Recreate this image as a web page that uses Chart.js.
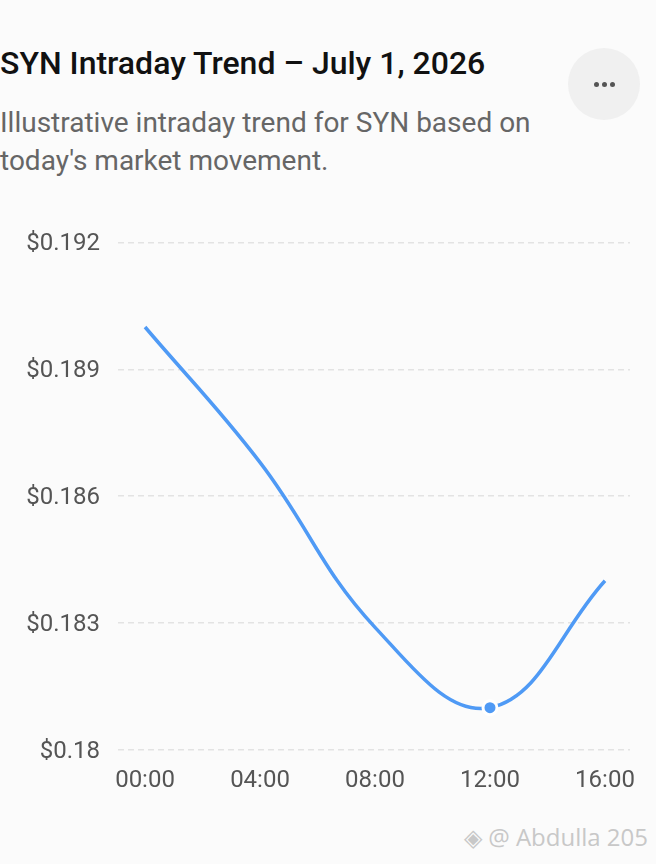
<!DOCTYPE html>
<html lang="en">
<head>
    <meta charset="UTF-8">
    <title>SYN Intraday Trend</title>
    <script src="https://cdn.jsdelivr.net/npm/chart.js@4.4.1/dist/chart.umd.min.js"></script>
    <style>
        html, body {
            margin: 0;
            padding: 0;
            background: #fbfbfb;
            font-family: Roboto, "Noto Sans", sans-serif;
            width: 656px;
            height: 864px;
            overflow: hidden;
            position: relative;
        }
        h1 {
            position: absolute;
            left: 0;
            top: 44px;
            margin: 0;
            font-size: 32px;
            font-weight: 500;
            color: #111;
            line-height: 38px;
            white-space: nowrap;
        }
        .sub {
            position: absolute;
            left: 0;
            top: 104px;
            margin: 0;
            width: 545px;
            font-size: 28px;
            line-height: 38px;
            color: #666;
        }
        .menu {
            position: absolute;
            left: 568px;
            top: 48px;
            width: 72px;
            height: 72px;
            border-radius: 50%;
            background: #f0f0f0;
        }
        .menu span {
            position: absolute;
            top: 34px;
            width: 5px;
            height: 5px;
            border-radius: 50%;
            background: #555;
        }
        #wrap {
            position: absolute;
            left: 0;
            top: 210px;
            width: 656px;
            height: 600px;
        }
        .mark {
            position: absolute;
            right: 8px;
            top: 820px;
            font-size: 24px;
            color: #c8c8c8;
            font-family: "Open Sans", sans-serif;
        }
    </style>
</head>
<body>
    <h1>SYN Intraday Trend – July 1, 2026</h1>
    <p class="sub">Illustrative intraday trend for SYN based on today's market movement.</p>
    <div class="menu"><span style="left:26px"></span><span style="left:34px"></span><span style="left:42px"></span></div>
    <div id="wrap"><canvas id="trendChart"></canvas></div>
    <div class="mark">◈ @ Abdulla 205</div>

    <script>
        // values
        const hours = [0, 4, 8, 12, 16];
        const timeLabels = ['00:00', '04:00', '08:00', '12:00', '16:00'];
        const prices = [0.1900, 0.1868, 0.1829, 0.1810, 0.1840];
        const yTicks = [0.180, 0.183, 0.186, 0.189, 0.192];
        const highlightIndex = 3;

        const blue = '#4f9af5';

        const ctx = document.getElementById('trendChart').getContext('2d');
        new Chart(ctx, {
            type: 'line',
            data: {
                datasets: [{
                    data: hours.map((h, i) => ({ x: h, y: prices[i] })),
                    borderColor: blue,
                    borderWidth: 3.5,
                    tension: 0.4,
                    pointRadius: prices.map((p, i) => i === highlightIndex ? 7 : 0),
                    pointBackgroundColor: blue,
                    pointBorderColor: '#ffffff',
                    pointBorderWidth: 3,
                    fill: false
                }]
            },
            options: {
                responsive: true,
                maintainAspectRatio: false,
                animation: false,
                layout: { padding: { top: 31, right: 26, left: 0, bottom: 0 } },
                plugins: {
                    legend: { display: false },
                    tooltip: { enabled: false }
                },
                scales: {
                    x: {
                        type: 'linear',
                        min: -0.94,
                        max: 16.87,
                        afterBuildTicks: scale => { scale.ticks = hours.map(h => ({ value: h })); },
                        afterFit: scale => { scale.height = 60; },
                        grid: { display: false, drawTicks: false },
                        border: { display: false },
                        ticks: {
                            padding: 17,
                            color: '#555',
                            font: { family: 'Roboto', size: 24 },
                            maxRotation: 0,
                            callback: v => timeLabels[hours.indexOf(v)]
                        }
                    },
                    y: {
                        min: 0.18,
                        max: 0.192,
                        afterBuildTicks: scale => { scale.ticks = yTicks.map(v => ({ value: v })); },
                        afterFit: scale => { scale.width = 118; },
                        border: { display: false, dash: [6, 4] },
                        grid: {
                            color: '#e3e3e3',
                            lineWidth: 1.5,
                            drawTicks: false
                        },
                        ticks: {
                            padding: 18,
                            labelOffset: 2,
                            color: '#555',
                            font: { family: 'Roboto', size: 24 },
                            callback: v => '$' + parseFloat(v.toFixed(3))
                        }
                    }
                }
            }
        });
    </script>
</body>
</html>
